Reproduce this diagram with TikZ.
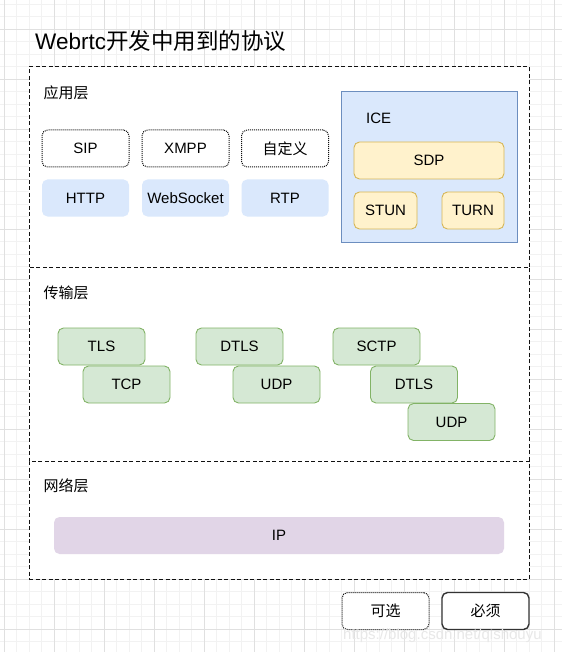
\documentclass[tikz,border=0pt]{standalone}
\usepackage{fontspec}
\setmainfont{Liberation Sans}
\newfontfamily\cjk{Noto Sans CJK SC}
\definecolor{gridminor}{HTML}{F2F2F2}
\definecolor{gridmajor}{HTML}{E0E0E0}
\definecolor{bluefill}{HTML}{DAE8FC}
\definecolor{bluestroke}{HTML}{6C8EBF}
\definecolor{yelfill}{HTML}{FFF2CC}
\definecolor{yelstroke}{HTML}{D6B656}
\definecolor{grnfill}{HTML}{D5E8D4}
\definecolor{grnstroke}{HTML}{82B366}
\definecolor{purfill}{HTML}{E1D5E7}
\definecolor{linecol}{HTML}{111111}
\tikzset{
  txt/.style={font=\fontsize{15}{18}\selectfont},
  box/.style={txt, rounded corners=5.5pt, inner sep=0pt, minimum width=87pt, minimum height=37pt},
  optbox/.style={box, draw=linecol, line width=1pt, dash pattern=on 1pt off 1pt, fill=white},
  mustbox/.style={box, draw=black!80, line width=1.4pt, fill=white},
  bluebox/.style={box, fill=bluefill},
  yelbox/.style={box, draw=yelstroke, fill=yelfill, line width=0.9pt},
  grnbox/.style={box, draw=grnstroke, fill=grnfill, line width=0.9pt},
  layer/.style={draw=linecol, line width=1pt, dash pattern=on 4pt off 2.5pt, fill=white},
  lbl/.style={txt, anchor=west, inner sep=0pt},
}
\begin{document}
\begin{tikzpicture}[x=1pt,y=-1pt]
\useasboundingbox (0,0) rectangle (562,652);
\fill[white] (0,0) rectangle (562,652);
% grid
\foreach \i in {0,...,45} {
  \draw[gridminor, line width=0.8pt] ({4.3+12.5*\i},0) -- ({4.3+12.5*\i},652);
}
\foreach \i in {0,...,52} {
  \draw[gridminor, line width=0.8pt] (0,{4.3+12.5*\i}) -- (562,{4.3+12.5*\i});
}
\foreach \i in {0,...,11} {
  \draw[gridmajor, line width=0.8pt] ({4.3+50*\i},0) -- ({4.3+50*\i},652);
}
\foreach \i in {0,...,12} {
  \draw[gridmajor, line width=0.8pt] (0,{29.3+50*\i}) -- (562,{29.3+50*\i});
}
% title
\node[anchor=west, inner sep=0pt, font=\fontsize{22.5}{26}\selectfont] (title) at (35,41) {Webrtc{\cjk 开发中用到的协议}};
% layers
\node[layer, minimum width=500pt, minimum height=200pt, inner sep=0pt] (app) at (279,167) {};
\node[layer, minimum width=500pt, minimum height=194pt, inner sep=0pt] (trans) at (279,364) {};
\node[layer, minimum width=500pt, minimum height=118pt, inner sep=0pt] (net) at (279,520) {};
\node[lbl] (applbl) at (43.5,92.5) {\cjk 应用层};
\node[lbl] (translbl) at (43.5,293) {\cjk 传输层};
\node[lbl] (netlbl) at (43.5,485.5) {\cjk 网络层};
% application layer
\node[optbox] (sip) at (85.5,148.5) {SIP};
\node[optbox] (xmpp) at (185.5,148.5) {XMPP};
\node[optbox] (custom) at (285,148.5) {\cjk 自定义};
\node[bluebox] (http) at (85.5,198) {HTTP};
\node[bluebox] (ws) at (185.5,198) {WebSocket};
\node[bluebox] (rtp) at (285,198) {RTP};
\node[box, draw=bluestroke, fill=bluefill, line width=1pt, rounded corners=0pt, minimum width=176pt, minimum height=150pt] (ice) at (429,167) {};
\node[lbl] (icelbl) at (366,118) {ICE};
\node[yelbox, minimum width=150pt] (sdp) at (429,160.5) {SDP};
\node[yelbox, minimum width=63pt] (stun) at (385.5,210.5) {STUN};
\node[yelbox, minimum width=62pt] (turn) at (473,210.5) {TURN};
% transport layer
\node[grnbox] (tls) at (101.5,346.5) {TLS};
\node[grnbox] (tcp) at (126.5,384.5) {TCP};
\node[grnbox] (dtls) at (239.5,346.5) {DTLS};
\node[grnbox] (udp) at (276.5,384.5) {UDP};
\node[grnbox] (sctp) at (376.5,346.5) {SCTP};
\node[grnbox] (dtlsb) at (414,384.5) {DTLS};
\node[grnbox] (udpb) at (451.5,422) {UDP};
% network layer
\node[box, fill=purfill, minimum width=450pt] (ip) at (279,535.5) {IP};
% legend
\node[optbox] (opt) at (385.5,611) {\cjk 可选};
\node[mustbox] (must) at (485.5,611) {\cjk 必须};
\node[anchor=west, inner sep=0pt, font=\fontsize{15}{18}\selectfont, text=black!9] (wm) at (343,636) {https://blog.csdn.net/qishouyu};
\end{tikzpicture}
\end{document}
